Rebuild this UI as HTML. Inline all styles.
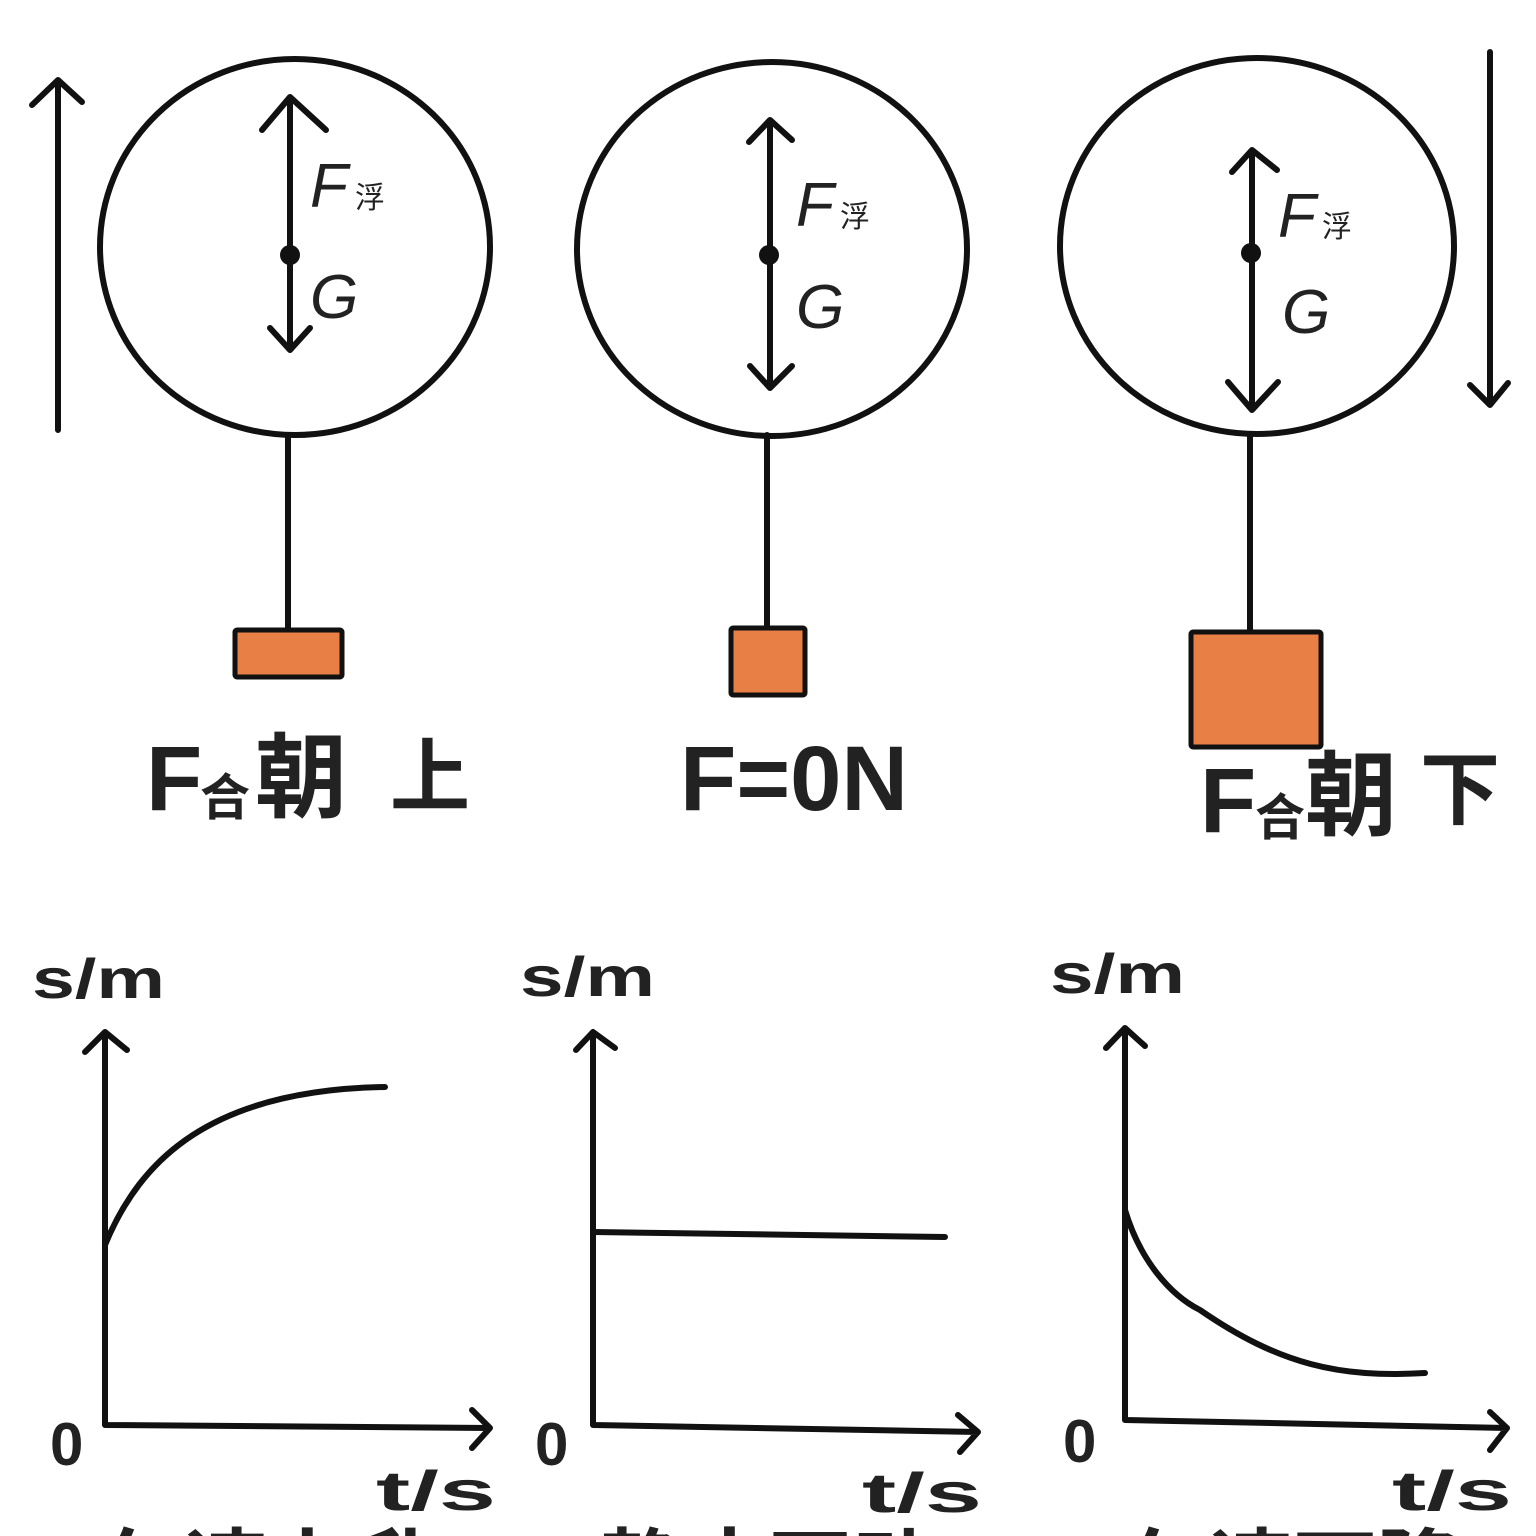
<!DOCTYPE html>
<html><head><meta charset="utf-8"><style>
html,body{margin:0;padding:0;background:#fff;width:1536px;height:1536px;overflow:hidden;}
svg{display:block}
text{font-family:"Liberation Sans","Noto Sans CJK SC",sans-serif;fill:#222;}
</style></head><body>
<svg width="1536" height="1536" viewBox="0 0 1536 1536" xmlns="http://www.w3.org/2000/svg">
<g fill="none" stroke="#111" stroke-width="6" stroke-linecap="round" stroke-linejoin="round">
<ellipse cx="295" cy="247" rx="195" ry="188"/>
<ellipse cx="772" cy="249" rx="195" ry="187"/>
<ellipse cx="1257" cy="246" rx="197" ry="188"/>
<path d="M290 97 V350 M262 130 L290 97 L326 130 M270 328 L290 350 L310 328"/>
<path d="M770 120 V388 M749 142 L770 120 L792 140 M750 366 L770 388 L792 366"/>
<path d="M1252 150 V410 M1232 172 L1252 150 L1277 170 M1228 382 L1252 410 L1278 382"/>
<path d="M288 435 V630 M767 435 V628 M1250 434 V632"/>
<path d="M58 430 V82 M32 105 L58 80 L82 102"/>
<path d="M1490 52 V405 M1470 385 L1490 405 L1508 383"/>
<path d="M105 1425 V1035 M85 1052 L105 1032 L127 1050 M105 1425 L490 1428 M472 1410 L490 1428 L472 1448"/>
<path d="M105 1245 C140 1160 210 1090 385 1087"/>
<path d="M593 1425 V1035 M576 1050 L593 1032 L615 1048 M593 1425 L978 1432 M958 1415 L978 1432 L960 1452"/>
<path d="M593 1232 L945 1237"/>
<path d="M1125 1420 V1030 M1106 1048 L1125 1028 L1145 1046 M1125 1420 L1507 1428 M1490 1412 L1507 1428 L1490 1450"/>
<path d="M1125 1210 C1140 1260 1170 1295 1200 1310 C1280 1365 1340 1378 1425 1373"/>
</g>
<g fill="#111">
<circle cx="290" cy="255" r="10"/>
<circle cx="769" cy="255" r="10"/>
<circle cx="1251" cy="253" r="10"/>
</g>
<g fill="#E88045" stroke="#111" stroke-width="5">
<rect x="235" y="630" width="107" height="47" rx="2"/>
<rect x="731" y="628" width="74" height="67" rx="2"/>
<rect x="1191" y="632" width="130" height="115" rx="2"/>
</g>
<g font-style="italic">
<text x="310" y="207" font-size="62">F</text>
<text x="310" y="318" font-size="62">G</text>
<text x="796" y="226" font-size="62">F</text>
<text x="796" y="328" font-size="62">G</text>
<text x="1278" y="237" font-size="62">F</text>
<text x="1282" y="333" font-size="62">G</text>
</g>
<text x="355" y="208" font-size="30">浮</text>
<text x="840" y="227" font-size="30">浮</text>
<text x="1322" y="237" font-size="30">浮</text>
<g font-weight="bold">
<text x="146" y="810" font-size="92">F</text>
<text x="200" y="815" font-size="50">合</text>
<text x="255" y="810" font-size="92">朝</text>
<text x="390" y="805" font-size="80">上</text>
<text x="680" y="810" font-size="92" textLength="228" lengthAdjust="spacingAndGlyphs">F=0N</text>
<text x="1200" y="832" font-size="92">F</text>
<text x="1255" y="835" font-size="50">合</text>
<text x="1305" y="828" font-size="92">朝</text>
<text x="1420" y="818" font-size="80">下</text>
</g>
<g font-weight="bold">
<text x="32" y="998" font-size="56" textLength="133" lengthAdjust="spacingAndGlyphs">s/m</text>
<text x="520" y="996" font-size="56" textLength="135" lengthAdjust="spacingAndGlyphs">s/m</text>
<text x="1050" y="993" font-size="56" textLength="135" lengthAdjust="spacingAndGlyphs">s/m</text>
<text x="50" y="1465" font-size="60">0</text>
<text x="535" y="1465" font-size="60">0</text>
<text x="1063" y="1462" font-size="60">0</text>
<text x="376" y="1510" font-size="56" textLength="120" lengthAdjust="spacingAndGlyphs">t/s</text>
<text x="862" y="1512" font-size="56" textLength="120" lengthAdjust="spacingAndGlyphs">t/s</text>
<text x="1392" y="1510" font-size="56" textLength="120" lengthAdjust="spacingAndGlyphs">t/s</text>
</g>
<g font-weight="bold" font-size="84">
<text x="100" y="1598">匀速上升</text>
<text x="600" y="1598">静止不动</text>
<text x="1125" y="1598">匀速下降</text>
</g>
</svg>
</body></html>
